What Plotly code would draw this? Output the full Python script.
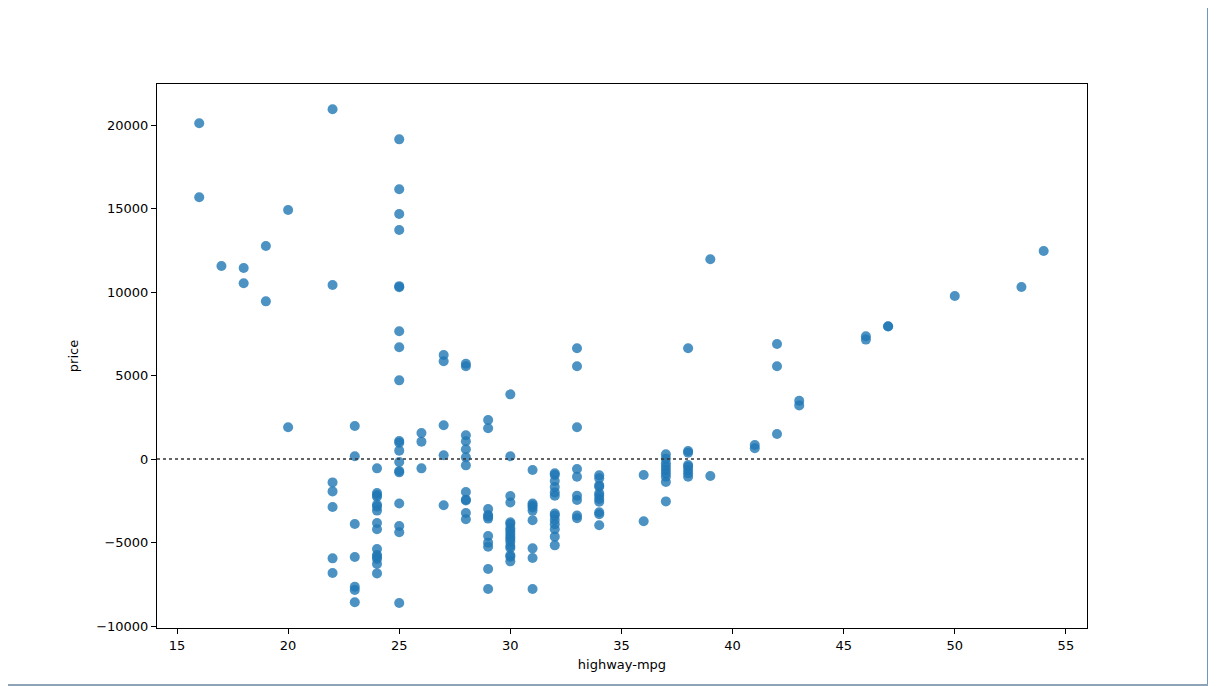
import plotly.graph_objects as go

# Residual data: highway-mpg (x) vs price residual (y)
mpg_16 = [20100, 15670]
mpg_17 = [11560]
mpg_18 = [11440, 10520]
mpg_19 = [12750, 9440]
mpg_20 = [14910, 1900]
mpg_22 = [20940, 10420, -1400, -1940, -2870, -5950, -6830]
mpg_23 = [1980, 160, -3890, -5870, -7650, -7840, -8580]
mpg_24 = [-560, -2040, -2160, -2260, -2740, -2850, -3090, -3830, -4210,
          -5390, -5750, -5850, -5990, -6290, -6850]
mpg_25 = [19140, 16150, 14670, 13710, 10350, 10280, 7650, 6690, 4710, 1080,
          980, 500, -180, -720, -800, -2660, -4010, -4390, -8620]
mpg_26 = [1560, 1040, -560]
mpg_27 = [6230, 5850, 2020, 220, -2770]
mpg_28 = [5700, 5550, 1420, 1060, 580, 100, -380, -1980, -2440, -2480,
          -3230, -3610]
mpg_29 = [2340, 1840, -2990, -3350, -3450, -3570, -4610, -5010, -5250,
          -6590, -7780]
mpg_30 = [3870, 160, -2220, -2600, -3790, -3890, -4150, -4300, -4470, -4650,
          -4790, -4950, -5210, -5330, -5770, -5850, -6130]
mpg_31 = [-660, -2660, -2770, -2900, -3090, -3670, -5350, -5930, -7780]
mpg_32 = [-860, -960, -1320, -1680, -2000, -2200, -3270, -3390, -3650,
          -3910, -4210, -4650, -5170]
mpg_33 = [6630, 5550, 1900, -600, -1060, -2200, -2460, -3390, -3550]
mpg_34 = [-980, -1160, -1580, -1660, -2060, -2200, -2400, -2560, -3190,
          -3310, -3970]
mpg_36 = [-960, -3730]
mpg_37 = [280, 20, -260, -460, -660, -860, -1060, -1380, -2540]
mpg_38 = [6630, 480, 380, -360, -460, -660, -860, -1060]
mpg_39 = [11960, -1020]
mpg_41 = [840, 640]
mpg_42 = [6890, 5550, 1500]
mpg_43 = [3490, 3210]
mpg_46 = [7350, 7150]
mpg_47 = [7950, 7930]
mpg_50 = [9760]
mpg_53 = [10300]
mpg_54 = [12460]

columns = {
    16: mpg_16, 17: mpg_17, 18: mpg_18, 19: mpg_19, 20: mpg_20, 22: mpg_22,
    23: mpg_23, 24: mpg_24, 25: mpg_25, 26: mpg_26, 27: mpg_27, 28: mpg_28,
    29: mpg_29, 30: mpg_30, 31: mpg_31, 32: mpg_32, 33: mpg_33, 34: mpg_34,
    36: mpg_36, 37: mpg_37, 38: mpg_38, 39: mpg_39, 41: mpg_41, 42: mpg_42,
    43: mpg_43, 46: mpg_46, 47: mpg_47, 50: mpg_50, 53: mpg_53, 54: mpg_54,
}

x_vals, y_vals = [], []
for k, vals in columns.items():
    for v in vals:
        x_vals.append(k)
        y_vals.append(v)

x_ticks = [15, 20, 25, 30, 35, 40, 45, 50, 55]
y_ticks = [-10000, -5000, 0, 5000, 10000, 15000, 20000]
y_tick_labels = ["\u221210000", "\u22125000", "0", "5000", "10000", "15000", "20000"]

fig = go.Figure()
fig.add_trace(go.Scatter(
    x=x_vals, y=y_vals, mode="markers",
    marker=dict(color="#1f77b4", opacity=0.8, size=10, line=dict(width=0)),
    showlegend=False, hoverinfo="x+y",
))

# dotted zero line
fig.add_shape(type="line", xref="paper", x0=0, x1=1, yref="y", y0=0, y1=0,
              line=dict(color="#333333", width=1.6, dash="dot"), layer="above")

# window frame decorations seen in the screenshot
frame_color = "#7096c2"
fig.add_shape(type="rect", xref="paper", yref="paper",
              x0=1050/930, x1=1057/930, y0=-58/544, y1=700/544,
              fillcolor=frame_color, line=dict(width=0), layer="above")
fig.add_shape(type="rect", xref="paper", yref="paper",
              x0=-149/930, x1=1059/930, y0=-58/544, y1=-56/544,
              fillcolor="#8fa3b8", line=dict(width=0), layer="above")

axis_common = dict(
    showgrid=False, zeroline=False, showline=True, mirror=True,
    linecolor="black", linewidth=1, ticks="outside", ticklen=5,
    tickcolor="black", tickwidth=1,
    tickfont=dict(family="DejaVu Sans", size=13, color="black"),
)

fig.update_layout(
    width=1208, height=678,
    margin=dict(l=149, r=129, t=76, b=58),
    paper_bgcolor="white", plot_bgcolor="white",
    font=dict(family="DejaVu Sans", size=13, color="black"),
    xaxis=dict(range=[14.1, 55.95], tickvals=x_ticks,
               title=dict(text="highway-mpg", standoff=8,
                          font=dict(family="DejaVu Sans", size=13)),
               **axis_common),
    yaxis=dict(range=[-10120, 22455], tickvals=y_ticks, ticktext=y_tick_labels,
               title=dict(text="price", standoff=14,
                          font=dict(family="DejaVu Sans", size=13)),
               **axis_common),
)

fig.write_html("out.html")
